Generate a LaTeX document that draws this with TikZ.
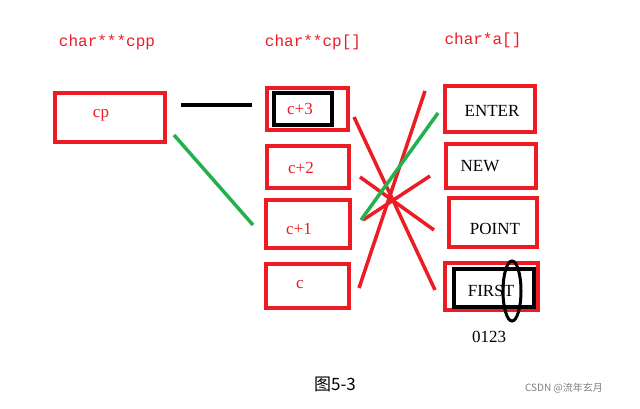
\documentclass[tikz,border=0pt]{standalone}
\usepackage{fontspec}
\setmainfont{Liberation Serif}
\newfontfamily\monof{Liberation Mono}
\newfontfamily\cjk{Noto Sans CJK SC}
\definecolor{pr}{HTML}{ED1C24}
\definecolor{pg}{HTML}{22B14C}
\begin{document}
\begin{tikzpicture}[x=1pt,y=-1pt,
  rbox/.style={draw=pr,line width=4pt},
  kbox/.style={draw=black,line width=4pt},
  rl/.style={draw=pr,line width=3.5pt},
  gl/.style={draw=pg,line width=3.5pt},
  ttl/.style={text=pr,font=\monof\fontsize{16}{16}\selectfont},
  rt/.style={text=pr,font=\fontsize{17}{17}\selectfont},
  kt/.style={text=black,font=\fontsize{17}{17}\selectfont}]
\useasboundingbox[fill=white] (0,0) rectangle (640,409);
\node[ttl] (t1) at (107,42) {char***cpp};
\node[ttl] (t2) at (313,42) {char**cp[]};
\node[ttl] (t3) at (483,40) {char*a[]};
% cp box
\draw[rbox] (55,93) rectangle (165,142);
\node[rt] (cp) at (101,115) {cp};
\coordinate (bl1) at (181,105); \coordinate (bl2) at (252,105);
\draw[black,line width=3.5pt] (bl1) -- (bl2);
\coordinate (g1) at (174,135); \coordinate (g2) at (253,225);
\draw[gl] (g1) -- (g2);
% middle
\draw[rbox] (267,88) rectangle (348,130);
\draw[kbox] (274,93) rectangle (332,125);
\node[rt] (c3) at (300,109) {c+3};
\draw[rbox] (267,146) rectangle (349,188);
\node[rt] (c2) at (301,168) {c+2};
\draw[rbox] (266,200) rectangle (350,248);
\node[rt] (c1) at (299,229) {c+1};
\draw[rbox] (266,264) rectangle (349,308);
\node[rt] (c0) at (300,285) {c};
% right
\draw[rbox] (445,86) rectangle (535,132);
\node[kt] (e) at (492,111) {ENTER};
\draw[rbox] (446,144) rectangle (536,188);
\node[kt] (n) at (480,166) {NEW};
\draw[rbox] (449,198) rectangle (537,247);
\node[kt] (p) at (495,229) {POINT};
\draw[rbox] (445,263) rectangle (538,310);
\draw[kbox] (454,269) rectangle (534,307);
\node[kt] (f) at (491,291) {FIRST};
\draw[black,line width=3pt] (512,291) ellipse (9 and 30);
\node[kt] (nums) at (489,337) {0123};
% crossing lines
\coordinate (a1) at (354,117); \coordinate (a2) at (435,290);
\coordinate (b1) at (425,91); \coordinate (b2) at (359,288);
\coordinate (d1) at (360,177); \coordinate (d2) at (434,230);
\coordinate (e1) at (363,220); \coordinate (e2) at (430,176);
\coordinate (h1) at (361,220); \coordinate (h2) at (438,113);
\draw[rl] (a1) -- (a2);
\draw[rl] (b1) -- (b2);
\draw[rl] (d1) -- (d2);
\draw[rl] (e1) -- (e2);
\draw[gl] (h1) -- (h2);
\node[font=\cjk\fontsize{17}{17}\selectfont] (cap) at (335,384) {图5-3};
\node[text=gray,font=\cjk\fontsize{10}{10}\selectfont] (w) at (564,388) {CSDN @流年玄月};
\end{tikzpicture}
\end{document}
